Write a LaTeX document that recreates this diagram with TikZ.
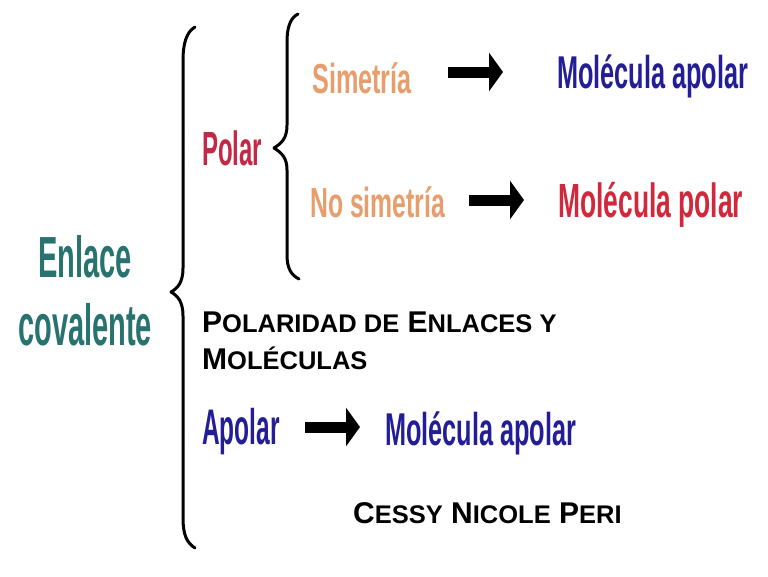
\documentclass[tikz,border=0pt]{standalone}
\usepackage{fontspec}
\setmainfont{Liberation Sans}
\usetikzlibrary{arrows.meta}
\definecolor{tealc}{RGB}{40,115,112}
\definecolor{polarred}{RGB}{195,40,70}
\definecolor{tanc}{RGB}{232,158,108}
\definecolor{bluec}{RGB}{35,30,150}
\definecolor{molred}{RGB}{210,40,60}
\newcommand\cnd[3]{\scalebox{#1}[1]{\fontsize{#2}{#2}\selectfont\bfseries #3}}
\newcommand\smc[1]{{\fontsize{25.5}{25.5}\selectfont #1}}
\begin{document}
\begin{tikzpicture}[x=1pt,y=-1pt,
  txt/.style={inner sep=0pt,anchor=base west},
  brace/.style={line width=3pt,line cap=round,line join=round},
  bigarrow/.style={line width=11pt,-{Triangle[length=14pt,width=38pt]}},
  titletxt/.style={inner sep=0pt,anchor=base west,font=\fontsize{30}{30}\selectfont\bfseries}]
\useasboundingbox[fill=white] (0,0) rectangle (768,576);
% braces
\draw[brace] (195,27) .. controls (186,32) and (183,45) .. (183,60) -- (183,268)
  .. controls (183,282) and (178,288) .. (171,292)
  .. controls (178,296) and (183,302) .. (183,316) -- (183,518)
  .. controls (183,535) and (187,543) .. (195,548);
\draw[brace] (298,14) .. controls (290,18) and (287,28) .. (287,42) -- (287,125)
  .. controls (287,138) and (282,143) .. (274,148)
  .. controls (282,153) and (287,158) .. (287,170) -- (287,255)
  .. controls (287,268) and (291,275) .. (299,279);
% texts
\node[txt,text=tealc] (enl1) at (38,277) {\cnd{0.5}{58}{Enlace}};
\node[txt,text=tealc] (enl2) at (18,345) {\cnd{0.5}{58}{covalente}};
\node[txt,text=polarred] (polar) at (202,165) {\cnd{0.5}{48}{Polar}};
\node[txt,text=tanc] (sim) at (312,93) {\cnd{0.6}{42}{Simetría}};
\node[txt,text=tanc] (nosim) at (310,217) {\cnd{0.59}{42}{No simetría}};
\node[txt,text=bluec] (mapol1) at (557,88) {\cnd{0.55}{46}{Molécula apolar}};
\node[txt,text=molred] (mpol) at (558,217) {\cnd{0.55}{48}{Molécula polar}};
\node[txt,text=bluec] (apolar) at (202,444) {\cnd{0.49}{50}{Apolar}};
\node[txt,text=bluec] (mapol2) at (385,445) {\cnd{0.55}{46}{Molécula apolar}};
\node[titletxt] (title1) at (202,332) {P\smc{OLARIDAD DE} E\smc{NLACES Y}};
\node[titletxt] (title2) at (202,369) {M\smc{OLÉCULAS}};
\node[titletxt] (author) at (353,523) {C\smc{ESSY} N\smc{ICOLE} P\smc{ERI}};
% arrows
\coordinate (a1s) at (448,72); \coordinate (a1e) at (503,72);
\coordinate (a2s) at (469,200); \coordinate (a2e) at (524,200);
\coordinate (a3s) at (305,427); \coordinate (a3e) at (360,427);
\draw[bigarrow] (a1s) -- (a1e);
\draw[bigarrow] (a2s) -- (a2e);
\draw[bigarrow] (a3s) -- (a3e);
\end{tikzpicture}
\end{document}
